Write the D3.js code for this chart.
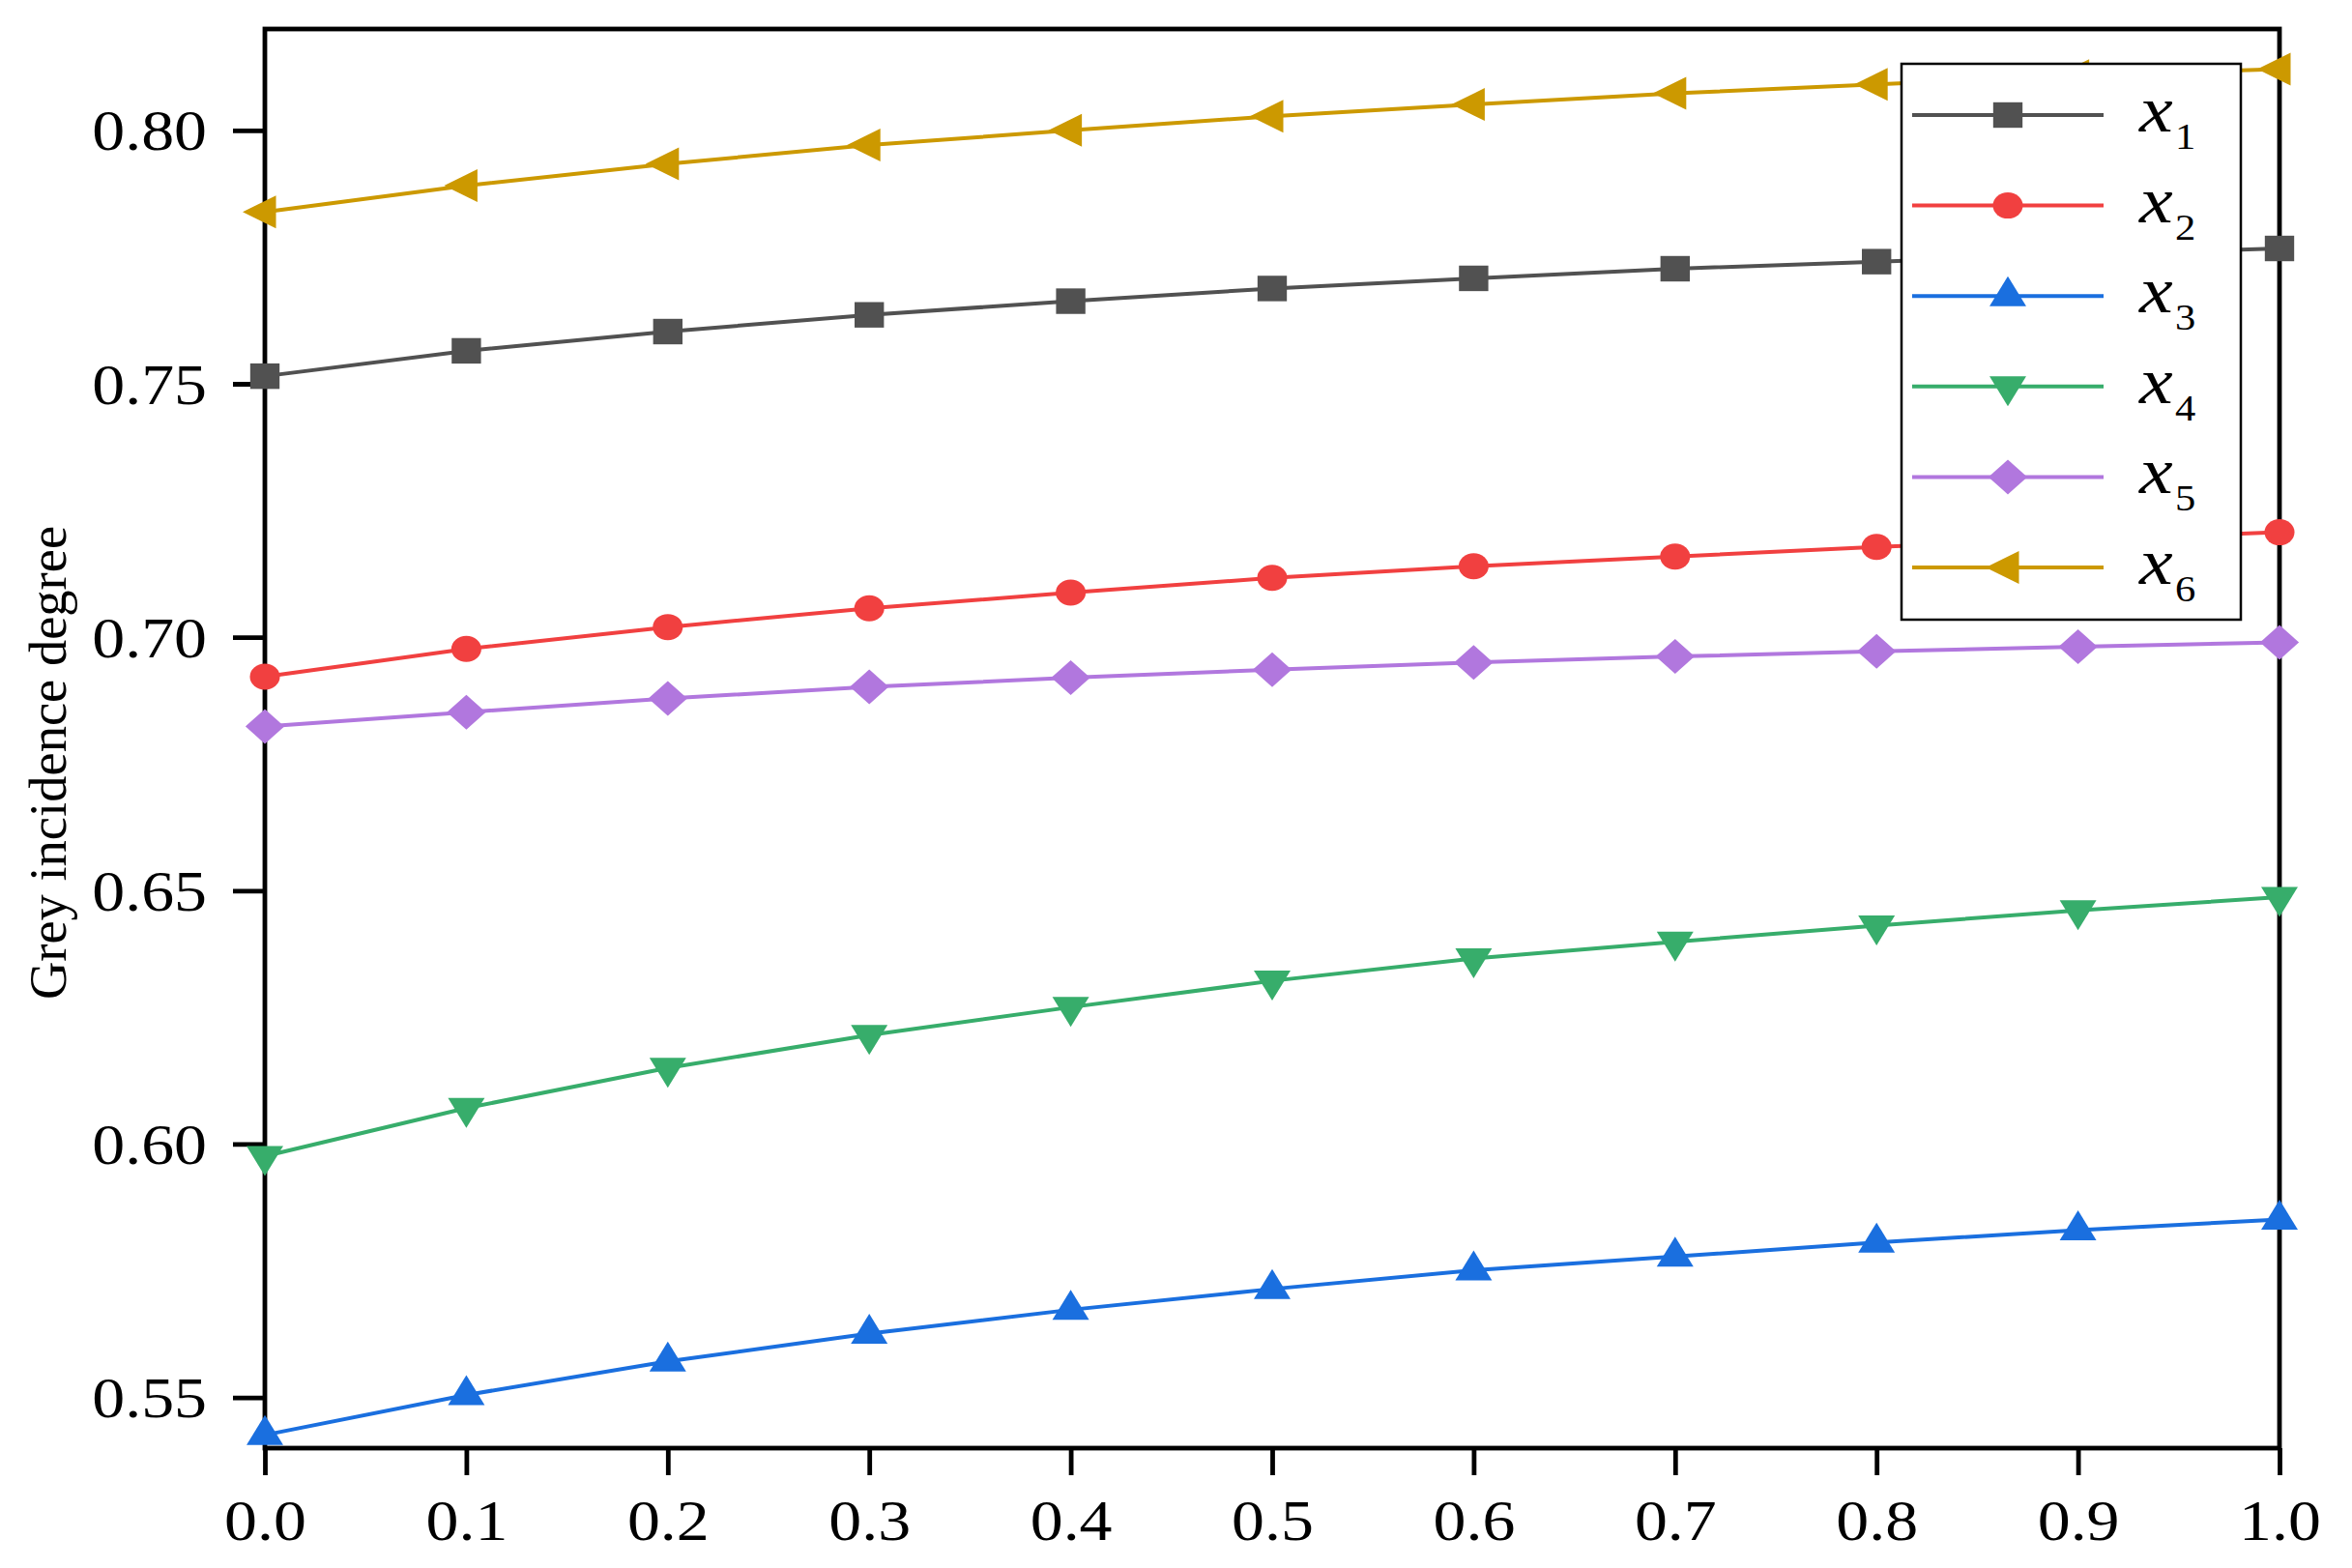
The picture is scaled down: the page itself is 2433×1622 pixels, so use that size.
<!DOCTYPE html>
<html>
<head>
<meta charset="utf-8">
<script src="https://cdn.jsdelivr.net/npm/d3@7/dist/d3.min.js"></script>
<style>
html,body{margin:0;padding:0;background:#fff;}
svg{display:block;}
</style>
</head>
<body>
<svg id="chart" width="2433" height="1622"></svg>
<script>
// ---------------- data ----------------
const xValues = [0.0, 0.1, 0.2, 0.3, 0.4, 0.5, 0.6, 0.7, 0.8, 0.9, 1.0];
const seriesNames = ["x", "x", "x", "x", "x", "x"];
const seriesSubs = ["1", "2", "3", "4", "5", "6"];
const x1Values = [0.7515, 0.7565, 0.7603, 0.7636, 0.7663, 0.7688, 0.7708, 0.7727, 0.7741, 0.7755, 0.7767];
const x2Values = [0.6922, 0.6977, 0.7020, 0.7057, 0.7088, 0.7117, 0.7140, 0.7159, 0.7178, 0.7193, 0.7207];
const x3Values = [0.5426, 0.5505, 0.5571, 0.5626, 0.5673, 0.5714, 0.5751, 0.5778, 0.5806, 0.5830, 0.5851];
const x4Values = [0.5976, 0.6071, 0.6150, 0.6215, 0.6270, 0.6322, 0.6366, 0.6399, 0.6431, 0.6461, 0.6487];
const x5Values = [0.6824, 0.6852, 0.6879, 0.6902, 0.6920, 0.6936, 0.6950, 0.6962, 0.6972, 0.6981, 0.6990];
const x6Values = [0.7839, 0.7891, 0.7934, 0.7971, 0.8000, 0.8028, 0.8051, 0.8073, 0.8091, 0.8108, 0.8121];
const xTickValues = [0.0, 0.1, 0.2, 0.3, 0.4, 0.5, 0.6, 0.7, 0.8, 0.9, 1.0];
const yTickValues = [0.55, 0.60, 0.65, 0.70, 0.75, 0.80];
const yAxisTitle = "Grey incidence degree";

// ---------------- styling ----------------
const colors = ["#515151", "#F14040", "#1A6FDF", "#37AD6B", "#B177DE", "#CC9900"];
const markerTypes = ["square", "circle", "triangleUp", "triangleDown", "diamond", "triangleLeft"];
const allValues = [x1Values, x2Values, x3Values, x4Values, x5Values, x6Values];
const SX = 1.15; // horizontal stretch of the original figure
const FONT = "'Liberation Serif','Times New Roman',serif";

const svg = d3.select("#chart");
const plotLeft = 274, plotRight = 2358, plotTop = 30, plotBottom = 1498;

const x = d3.scaleLinear().domain([0, 1]).range([plotLeft, plotRight]);
const y = d3.scaleLinear().domain([0.54, 0.82]).range([plotBottom, plotTop]);

function markerPath(type) {
  const p = d3.path();
  if (type === "square") {
    const h = 13.2; p.rect(-h, -h, 2*h, 2*h);
  } else if (type === "circle") {
    p.arc(0, 0, 13.5, 0, 2*Math.PI);
  } else if (type === "triangleUp") {
    p.moveTo(0, -20.5); p.lineTo(16.5, 10.5); p.lineTo(-16.5, 10.5); p.closePath();
  } else if (type === "triangleDown") {
    p.moveTo(0, 20.5); p.lineTo(16.5, -10.5); p.lineTo(-16.5, -10.5); p.closePath();
  } else if (type === "diamond") {
    p.moveTo(0, -18); p.lineTo(17.5, 0); p.lineTo(0, 18); p.lineTo(-17.5, 0); p.closePath();
  } else if (type === "triangleLeft") {
    p.moveTo(-20, 0); p.lineTo(10, -17); p.lineTo(10, 17); p.closePath();
  }
  return p.toString();
}

// ---------------- frame ----------------
svg.append("rect")
  .attr("x", plotLeft).attr("y", plotTop)
  .attr("width", plotRight - plotLeft).attr("height", plotBottom - plotTop)
  .attr("fill", "none").attr("stroke", "#000").attr("stroke-width", 4.8);

// ---------------- axes ----------------
const yAxis = d3.axisLeft(y).tickValues(yTickValues).tickSize(33).tickFormat(d3.format(".2f"));
const gy = svg.append("g").attr("transform", `translate(${plotLeft},0)`).call(yAxis);
gy.select(".domain").remove();
gy.selectAll(".tick line").attr("stroke", "#000").attr("stroke-width", 4.8);
gy.selectAll(".tick text")
  .attr("x", null).attr("dy", null).attr("y", null)
  .attr("transform", `translate(-60,20) scale(${SX},1)`)
  .attr("text-anchor", "end")
  .attr("font-family", FONT).attr("font-size", 59).attr("fill", "#000");

const xAxis = d3.axisBottom(x).tickValues(xTickValues).tickSize(28).tickFormat(d3.format(".1f"));
const gx = svg.append("g").attr("transform", `translate(0,${plotBottom})`).call(xAxis);
gx.select(".domain").remove();
gx.selectAll(".tick line").attr("stroke", "#000").attr("stroke-width", 4.8);
gx.selectAll(".tick text")
  .attr("y", null).attr("dy", null)
  .attr("transform", `translate(0,95) scale(${SX},1)`)
  .attr("text-anchor", "middle")
  .attr("font-family", FONT).attr("font-size", 59).attr("fill", "#000");

svg.append("text")
  .attr("transform", `translate(68,789) rotate(-90)`)
  .attr("text-anchor", "middle")
  .attr("font-family", FONT).attr("font-size", 54.5).attr("fill", "#000")
  .text(yAxisTitle);

// ---------------- series ----------------
const line = d3.line().x((d, i) => x(xValues[i])).y(d => y(d));
allValues.forEach((vals, s) => {
  const g = svg.append("g");
  g.append("path").datum(vals)
    .attr("d", line).attr("fill", "none")
    .attr("stroke", colors[s]).attr("stroke-width", 4);
  g.selectAll("path.m").data(vals).join("path").attr("class", "m")
    .attr("d", markerPath(markerTypes[s]))
    .attr("transform", (d, i) => `translate(${x(xValues[i])},${y(d)}) scale(${SX},1)`)
    .attr("fill", colors[s]);
});

// ---------------- legend ----------------
const lg = svg.append("g");
lg.append("rect").attr("x", 1967).attr("y", 66).attr("width", 351).attr("height", 575)
  .attr("fill", "#fff").attr("stroke", "#000").attr("stroke-width", 2.5);
seriesNames.forEach((name, s) => {
  const cy = 119 + s * 93.6;
  lg.append("line").attr("x1", 1978).attr("x2", 2176).attr("y1", cy).attr("y2", cy)
    .attr("stroke", colors[s]).attr("stroke-width", 4);
  lg.append("path").attr("d", markerPath(markerTypes[s]))
    .attr("transform", `translate(2077,${cy}) scale(${SX},1)`)
    .attr("fill", colors[s]);
  const t = lg.append("text")
    .attr("transform", `translate(2213,${cy + 17}) scale(${SX},1)`)
    .attr("font-family", FONT).attr("fill", "#000");
  t.append("tspan").attr("font-size", 68).attr("font-style", "italic").text(name);
  t.append("tspan").attr("font-size", 37).attr("dx", 2).attr("dy", 18).text(seriesSubs[s]);
});
</script>
</body>
</html>
